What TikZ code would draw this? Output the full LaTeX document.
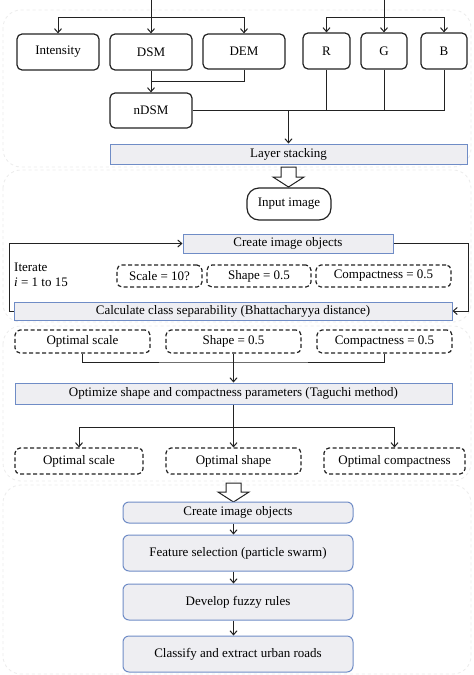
\documentclass[tikz,border=0pt]{standalone}
\usepackage{fontspec}
\setmainfont{Liberation Serif}
\usetikzlibrary{arrows.meta}
\definecolor{bfill}{HTML}{EEEEF2}
\definecolor{bline}{HTML}{6F8CC6}
\definecolor{lnk}{HTML}{222222}
\definecolor{faint}{HTML}{EBEBEB}
\begin{document}
\begin{tikzpicture}[x=1pt,y=-1pt,
  every node/.style={font=\fontsize{13}{15}\selectfont, inner sep=0pt},
  rbox/.style={draw=lnk, line width=1.2pt, rounded corners=5pt},
  bbox/.style={draw=bline, fill=bfill, line width=1pt},
  rbbox/.style={bbox, rounded corners=6pt},
  dbox/.style={draw=lnk, line width=1.2pt, dashed, dash pattern=on 4pt off 2.5pt, rounded corners=5pt},
  lnkline/.style={draw=lnk, line width=1pt},
  arr/.style={lnkline, -{Straight Barb[length=4pt,width=7pt]}},
  hollow/.style={draw=lnk, line width=1pt, fill=white},
  grp/.style={draw=faint, line width=0.8pt, dashed, rounded corners=18pt}
]
\useasboundingbox (0,0) rectangle (474,675);
% faint group containers
\draw[grp] (3,10) rectangle (471,167);
\draw[grp] (3,170) rectangle (471,322);
\draw[grp] (3,326) rectangle (471,481);
\draw[grp] (3,485) rectangle (471,674);

% top row
\node[rbox, minimum width=82pt, minimum height=36pt] (Int) at (58,52) {Intensity};
\node[rbox, minimum width=82pt, minimum height=36pt] (DSM) at (151,52) {DSM};
\node[rbox, minimum width=82pt, minimum height=35pt] (DEM) at (244,51.5) {DEM};
\node[rbox, minimum width=47pt, minimum height=36pt] (R) at (326.5,51) {R};
\node[rbox, minimum width=46pt, minimum height=36pt] (G) at (384,51) {G};
\node[rbox, minimum width=46pt, minimum height=36pt] (B) at (444,51) {B};
\node[rbox, minimum width=82pt, minimum height=35pt] (nDSM) at (151,110.5) {nDSM};
\node[bbox, minimum width=357pt, minimum height=20pt] (LS) at (288.5,154) {Layer stacking};

\coordinate (topL) at (151,0);
\coordinate (jL) at (151,17);
\coordinate (topR) at (384,0);
\coordinate (jR) at (384,17);
\draw[arr] (topL) -- (DSM.north);
\draw[arr] (jL) -| (Int.north);
\draw[arr] (jL) -| (DEM.north);
\draw[arr] (topR) -- (G.north);
\draw[arr] (jR) -| (R.north);
\draw[arr] (jR) -| (B.north);
\draw[arr] (DSM.south) -- (nDSM.north);
\coordinate (jD) at (151,81);
\draw[lnkline] (DEM.south) |- (jD);
\coordinate (jB) at (B.south |- nDSM.east);
\draw[lnkline] (nDSM.east) -- (jB) -- (B.south);
\draw[lnkline] (R.south) -- (R.south |- nDSM.east);
\draw[lnkline] (G.south) -- (G.south |- nDSM.east);
\coordinate (jLS) at (LS.north |- nDSM.east);
\draw[arr] (jLS) -- (LS.north);

% hollow arrow 1
\draw[hollow] (281,167) -- (296,167) -- (296,177) -- (304,177) -- (288.5,187) -- (273,177) -- (281,177) -- cycle;

\node[rbox, rounded corners=12pt, minimum width=84pt, minimum height=32pt] (Inp) at (289,204) {Input image};
\node[bbox, minimum width=210pt, minimum height=19pt] (CIO1) at (288,243.5) {Create image objects};
\node[align=left, anchor=west] (Iter) at (14,274.5) {Iterate\\\textit{i} = 1 to 15};
\node[dbox, minimum width=85pt, minimum height=22pt] (Sc) at (159.5,276) {Scale = 10?};
\node[dbox, minimum width=104pt, minimum height=22pt] (Sh) at (259,276) {Shape = 0.5};
\node[dbox, minimum width=135pt, minimum height=22pt] (Co) at (383.5,276) {Compactness = 0.5};
\node[bbox, minimum width=438pt, minimum height=18pt] (Calc) at (233,311) {Calculate class separability (Bhattacharyya distance)};

\coordinate (lL) at (9,311);
\coordinate (lR) at (468,311);
\draw[arr] (Calc.west) -- (lL) |- (CIO1.west);
\draw[arr] (CIO1.east) -| (lR) -- (Calc.east);

% row 2
\node[dbox, minimum width=135pt, minimum height=23pt] (OS1) at (82.5,341.5) {Optimal scale};
\node[dbox, minimum width=135pt, minimum height=23pt] (Sh2) at (233.5,341.5) {Shape = 0.5};
\node[dbox, minimum width=135pt, minimum height=23pt] (Co2) at (384.5,341.5) {Compactness = 0.5};
\node[bbox, minimum width=437pt, minimum height=21pt] (Opt) at (233.5,393.5) {Optimize shape and compactness parameters (Taguchi method)};
\coordinate (m2) at (233.5,362);
\draw[lnkline] (OS1.south) |- (m2) -| (Co2.south);
\draw[arr] (Sh2.south) -- (Opt.north);

% row 3
\node[dbox, minimum width=128pt, minimum height=26pt] (OS) at (79,461) {Optimal scale};
\node[dbox, minimum width=135pt, minimum height=26pt] (OSh) at (233.5,461) {Optimal shape};
\node[dbox, minimum width=141pt, minimum height=26pt] (OC) at (394.5,461) {Optimal compactness};
\coordinate (m3) at (233.5,427);
\draw[lnkline] (Opt.south) -- (m3);
\draw[arr] (m3) -| (OS.north);
\draw[arr] (m3) -| (OC.north);
\draw[arr] (m3) -- (OSh.north);

% hollow arrow 2
\draw[hollow] (226,483) -- (241,483) -- (241,492) -- (249,492) -- (233.5,502) -- (218,492) -- (226,492) -- cycle;

% bottom chain
\node[rbbox, minimum width=230pt, minimum height=21pt] (CIO2) at (238,512.5) {Create image objects};
\node[rbbox, minimum width=230pt, minimum height=36pt] (FS) at (238,553) {Feature selection (particle swarm)};
\node[rbbox, minimum width=230pt, minimum height=36pt] (DF) at (238,602) {Develop fuzzy rules};
\node[rbbox, minimum width=230pt, minimum height=36pt] (CL) at (238,654) {Classify and extract urban roads};
\draw[arr] ([xshift=-4.5pt]CIO2.south) -- ([xshift=-4.5pt]FS.north);
\draw[arr] ([xshift=-4.5pt]FS.south) -- ([xshift=-4.5pt]DF.north);
\draw[arr] ([xshift=-4.5pt]DF.south) -- ([xshift=-4.5pt]CL.north);
\end{tikzpicture}
\end{document}
